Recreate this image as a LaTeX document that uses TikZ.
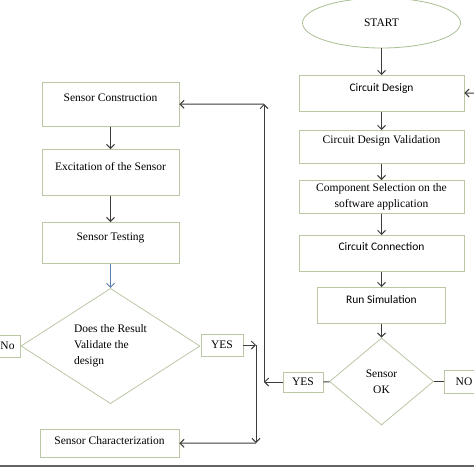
\documentclass[tikz,border=0pt]{standalone}
\usepackage{fontspec}
\setmainfont{Liberation Serif}
\newfontfamily\carlito{Carlito}
\usetikzlibrary{shapes.geometric,arrows.meta}

\definecolor{boxline}{HTML}{B9C7A5}
\definecolor{startline}{HTML}{A9BE92}
\definecolor{arr}{HTML}{3C3C3C}
\definecolor{bluearr}{HTML}{5A7DB0}

\tikzset{
  box/.style 2 args={draw=boxline, line width=0.8pt, inner xsep=0pt, inner ysep=0pt,
    minimum width=137, text height=#1pt, text depth=#2pt, anchor=north},
  plainbox/.style={draw=boxline, line width=0.8pt, inner sep=0pt, align=center},
  tag/.style={draw=boxline, line width=0.8pt, inner sep=0pt, minimum height=22},
  dia/.style={diamond, draw=boxline, line width=0.8pt, inner sep=0pt},
  sans/.style={font=\carlito\fontsize{11.5}{14}\selectfont},
  flow/.style={draw=arr, line width=1pt, ->}
}

\begin{document}
\begin{tikzpicture}[x=1pt,y=-1pt,font=\fontsize{11.5}{14}\selectfont,
    >={Straight Barb[length=4pt,width=8pt]}]
  \useasboundingbox (0,0) rectangle (474,474);

  % left column
  \node[box={19.5}{24.5}] (sc) at (110.5,82) {Sensor Construction};
  \node[box={21.5}{24.5}] (exc) at (110.5,149) {Excitation of the Sensor};
  \node[box={18.5}{22.5}] (test) at (110.5,222) {Sensor Testing};
  \node[dia, minimum width=179, minimum height=102, align=left,
    font=\fontsize{11.5}{16}\selectfont] (valid) at (110.5,346) {Does the Result\\Validate the\\design};
  \node[tag, minimum width=26] (no1) at (7.5,346) {No};
  \node[tag, minimum width=42] (yes1) at (222,345) {YES};
  \node[box={15.5}{12.5}, minimum width=139] (schar) at (109.5,429) {Sensor Characterization};

  % right column
  \node[ellipse, draw=startline, line width=0.8pt, minimum width=158, minimum height=50] (start) at (381.5,23) {START};
  \node[box={16.5}{19.5}, minimum width=165, sans] (cd) at (381.5,75) {Circuit Design};
  \node[box={13.5}{19.5}, minimum width=165] (cdv) at (381.5,130) {Circuit Design Validation};
  \node[plainbox, minimum width=165, minimum height=33,
    font=\fontsize{11.5}{16}\selectfont] (comp) at (381.5,197) {Component Selection on the\\software application};
  \node[box={15.5}{20.5}, minimum width=165, sans] (cc) at (381.5,235) {Circuit Connection};
  \node[box={16.5}{19.5}, minimum width=128, sans] (rs) at (381.5,287) {Run Simulation};
  \node[dia, minimum width=104, minimum height=87, align=center,
    font=\fontsize{11.5}{16}\selectfont] (ok) at (381.5,381.5) {Sensor\\OK};
  \node[tag, minimum width=40, minimum height=20] (yes2) at (303,382) {YES};
  \node[tag, minimum width=40, minimum height=23] (no2) at (464,381.5) {NO};

  \coordinate (nocd) at (478,93);
  \coordinate (c1) at (264,382);
  \coordinate (c2) at (264,104);
  \coordinate (c3) at (256,345);
  \coordinate (c4) at (256,443);

  % connectors
  \draw[flow] (sc) -- (exc);
  \draw[flow] (exc) -- (test);
  \draw[flow, draw=bluearr] (test) -- (valid);
  \draw[flow] (yes1) -- (c3);
  \draw[flow] (c3) -- (c4);
  \draw[flow] (c4) -- (schar);

  \draw[flow] (start) -- (cd);
  \draw[flow] (cd) -- (cdv);
  \draw[flow] (cdv) -- (comp);
  \draw[flow] (comp) -- (cc);
  \draw[flow] (cc) -- (rs);
  \draw[flow] (rs) -- (ok);
  \draw[draw=arr, line width=1pt] (ok) -- (yes2);
  \draw[draw=arr, line width=1pt] (ok) -- (no2);
  \draw[flow] (nocd) -- (cd);
  \draw[flow] (yes2) -- (c1);
  \draw[flow] (c1) -- (c2);
  \draw[flow] (c2) -- (sc);

  % bottom rule
  \draw[draw=arr!80, line width=2pt] (0,466) -- (474,466);
\end{tikzpicture}
\end{document}
